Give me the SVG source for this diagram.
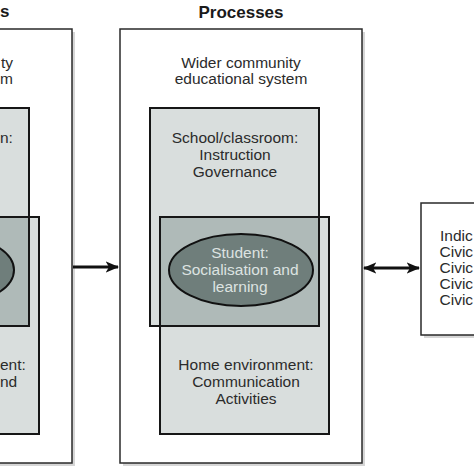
<svg xmlns="http://www.w3.org/2000/svg" width="474" height="474" viewBox="0 0 474 474">
<defs>
<style>
.t{font-family:"Liberation Sans",Arial,sans-serif;font-size:15.5px;fill:#2b2b2b}
.h{font-family:"Liberation Sans",Arial,sans-serif;font-size:17px;font-weight:bold;fill:#1a1a1a}
.outer{fill:#ffffff;stroke:#2a2a2a;stroke-width:1.5}
.shadow{fill:#d6d6d6}
.inner{fill:#d9dedd}
.ov{fill:#afbab8}
.edge{fill:none;stroke:#161616;stroke-width:2}
.ell{fill:#6f7e7b;stroke:#111;stroke-width:2}
.et{font-family:"Liberation Sans",Arial,sans-serif;font-size:15.5px;fill:#dde3e1}
.con{stroke:#111;stroke-width:3;fill:none}
</style>
<marker id="ah" viewBox="0 0 12 10" refX="11" refY="5" markerWidth="4.5" markerHeight="4" orient="auto-start-reverse" markerUnits="strokeWidth">
<path d="M0,0 L12,5 L0,10 L3,5 Z" fill="#111"/>
</marker>
</defs>
<rect width="474" height="474" fill="#ffffff"/>

<g id="antecedents">
<text class="h" x="0" y="17">s</text>
<rect class="shadow" x="-60" y="32" width="135" height="434"/>
<rect class="outer" x="-70" y="29" width="142" height="434"/>
<text class="t" x="1" y="68">ty</text>
<text class="t" x="0" y="84">m</text>
<rect class="inner" x="-140" y="108" width="169" height="218"/>
<rect class="inner" x="-130" y="217" width="169" height="217"/>
<rect class="ov" x="-130" y="217" width="159" height="109"/>
<rect class="edge" x="-140" y="108" width="169" height="218"/>
<rect class="edge" x="-130" y="217" width="169" height="217"/>
<text class="t" x="0" y="143">n:</text>
<ellipse class="ell" cx="-56" cy="270" rx="70" ry="36"/>
<text class="t" x="0" y="370">ent:</text>
<text class="t" x="0" y="387">nd</text>
</g>

<g id="processes">
<text class="h" x="241" y="18" text-anchor="middle">Processes</text>
<rect class="shadow" x="123" y="32" width="242" height="434"/>
<rect class="outer" x="120" y="29" width="242" height="434"/>
<text class="t" x="241" y="68" text-anchor="middle">Wider community</text>
<text class="t" x="241" y="84" text-anchor="middle">educational system</text>
</g>

<g id="school">
<rect class="inner" x="150" y="108" width="169" height="218"/>
</g>
<g id="home">
<rect class="inner" x="160" y="217" width="169" height="217"/>
</g>
<rect class="ov" x="160" y="217" width="159" height="109"/>
<rect class="edge" x="150" y="108" width="169" height="218"/>
<rect class="edge" x="160" y="217" width="169" height="217"/>
<g id="school-text">
<text class="t" x="235" y="143" text-anchor="middle">School/classroom:</text>
<text class="t" x="235" y="160" text-anchor="middle">Instruction</text>
<text class="t" x="235" y="177" text-anchor="middle">Governance</text>
</g>
<g id="home-text">
<text class="t" x="246" y="370" text-anchor="middle">Home environment:</text>
<text class="t" x="246" y="387" text-anchor="middle">Communication</text>
<text class="t" x="246" y="404" text-anchor="middle">Activities</text>
</g>

<g id="student">
<ellipse class="ell" cx="241" cy="270" rx="72" ry="36"/>
<text class="et" x="240" y="258" text-anchor="middle">Student:</text>
<text class="et" x="240" y="275" text-anchor="middle">Socialisation and</text>
<text class="et" x="240" y="292" text-anchor="middle">learning</text>
</g>

<g id="outcomes">
<rect class="shadow" x="424" y="206" width="60" height="132"/>
<rect class="outer" x="421" y="203" width="70" height="132"/>
<text class="t" x="440" y="241">Indic</text>
<text class="t" x="439.5" y="257">Civic</text>
<text class="t" x="439.5" y="273">Civic</text>
<text class="t" x="439.5" y="289">Civic</text>
<text class="t" x="439.5" y="305">Civic</text>
</g>

<g id="connectors">
<line class="con" x1="73" y1="267" x2="118" y2="267" marker-end="url(#ah)"/>
<line class="con" x1="364" y1="268" x2="419" y2="268" marker-start="url(#ah)" marker-end="url(#ah)"/>
</g>
</svg>
